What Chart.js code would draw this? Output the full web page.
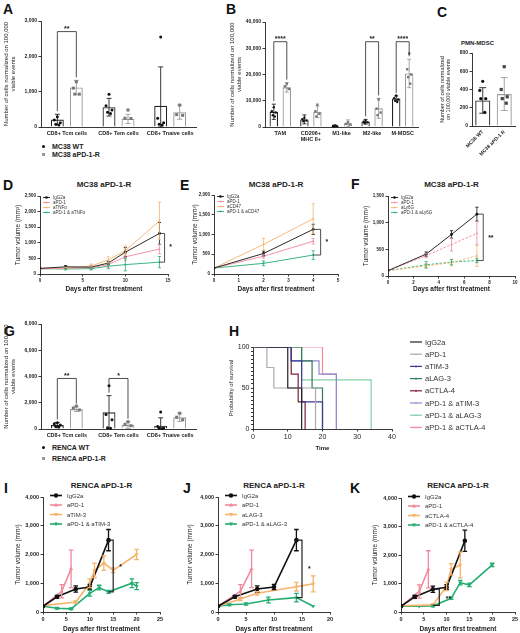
<!DOCTYPE html>
<html>
<head>
<meta charset="utf-8">
<script src="https://cdn.jsdelivr.net/npm/chart.js@4.4.1/dist/chart.umd.min.js"></script>
<style>
  body { margin: 0; background: #fff; }
  #page { position: relative; width: 520px; height: 633px; overflow: hidden; background: #fff; font-family: 'Liberation Sans', Arial, sans-serif; color: #222; }
  #page canvas { position: absolute; }
  .lt { position: absolute; font-weight: bold; font-size: 14px; line-height: 14px; color: #111; }
  .ttl { position: absolute; font-weight: bold; font-size: 8px; line-height: 10px; text-align: center; color: #222; white-space: nowrap; }
  .key { position: absolute; font-size: 7px; line-height: 8px; font-weight: bold; color: #222; white-space: nowrap; }
  .key i { display: inline-block; width: 3px; height: 3px; margin: 0 7px 1px 1px; vertical-align: middle; }
</style>
</head>
<body>
<div id="page">
  <div class="lt" style="left:3px;top:2px">A</div>
  <div class="lt" style="left:226px;top:2px">B</div>
  <div class="lt" style="left:437px;top:5px">C</div>
  <div class="lt" style="left:3px;top:178px">D</div>
  <div class="lt" style="left:180px;top:178px">E</div>
  <div class="lt" style="left:351px;top:177px">F</div>
  <div class="lt" style="left:4px;top:324px">G</div>
  <div class="lt" style="left:229px;top:324px">H</div>
  <div class="lt" style="left:4px;top:481px">I</div>
  <div class="lt" style="left:183px;top:481px">J</div>
  <div class="lt" style="left:350px;top:481px">K</div>

  <div class="ttl" style="left:455px;top:38px;width:45px;font-size:6px">PMN-MDSC</div>
  <div class="ttl" style="left:40px;top:180px;width:128px">MC38 aPD-1-R</div>
  <div class="ttl" style="left:214px;top:180px;width:124px">MC38 aPD-1-R</div>
  <div class="ttl" style="left:388px;top:180px;width:127px">MC38 aPD-1-R</div>
  <div class="ttl" style="left:43px;top:481px;width:117px">RENCA aPD-1-R</div>
  <div class="ttl" style="left:218px;top:481px;width:112px">RENCA aPD-1-R</div>
  <div class="ttl" style="left:401px;top:481px;width:114px">RENCA aPD-1-R</div>

  <div class="key" style="left:41px;top:143px"><i style="background:#111;border-radius:50%"></i>MC38 WT</div>
  <div class="key" style="left:41px;top:151px"><i style="background:#999"></i>MC38 aPD-1-R</div>
  <div class="key" style="left:41px;top:444px"><i style="background:#111;border-radius:50%"></i>RENCA WT</div>
  <div class="key" style="left:41px;top:455px"><i style="background:#999"></i>RENCA aPD-1-R</div>
</div>
<script>
// ---------- data ----------
// A: CD8+ subsets, MC38
const cellLabels = ['CD8+ Tcm cells', 'CD8+ Tem cells', 'CD8+ Tnaive cells'];
const aTicks = [0, 1000, 2000, 3000];
const aWt = [210, 560, 600];
const aWtErr = [150, 250, 1100];
const aWtDots = [[290, 200, 120, 80, 60], [930, 600, 480, 420, 380], [2550, 250, 120, 80, 60]];
const aRes = [1120, 230, 420];
const aResErr = [200, 130, 200];
const aResDots = [[1280, 1100, 930, 930], [480, 250, 240], [620, 350, 330]];
const aSig = [{ i: 0, level: 2700, label: '**' }];

// B: myeloid subsets
const myeloidLabels = ['TAM', ['CD206+', 'MHC II+'], 'M1-like', 'M2-like', 'M-MDSC'];
const bTicks = [0, 10000, 20000, 30000, 40000];
const bWt = [5800, 2900, 400, 2000, 10900];
const bWtErr = [2900, 1700, 300, 900, 900];
const bWtDots = [[7500, 6000, 5500, 4500, 4000], [3500, 3000, 2500, 2200], [600, 400, 300, 200], [2500, 2000, 1800, 1500], [12000, 11000, 10500, 10000, 9500]];
const bRes = [15100, 5800, 1400, 7100, 20400];
const bResErr = [1800, 2200, 1300, 3800, 5400];
const bResDots = [[16500, 15500, 14500], [8500, 6000, 5000, 4000], [1800, 1200, 900], [10500, 7000, 5500, 4500], [28000, 22000, 20000, 19000, 16500]];
const bSig = [{ i: 0, level: 32500, label: '****' }, { i: 3, level: 32500, label: '**' }, { i: 4, level: 32500, label: '****' }];

// C: PMN-MDSC
const pmnLabels = ['MC38 WT', 'MC38 aPD-1 R'];
const cTicks = [0, 200, 400, 600, 800];
const cVals = [280, 350];
const cErr = [140, 180];
const cDots = [[490, 390, 300, 300, 150], [650, 400, 320, 300, 250]];

// D: MC38 aPD-1-R, aTNFa
const dTicksX = [0, 5, 10, 15];
const dTicksY = [0, 500, 1000, 1500, 2000, 2500];
const dDays = [0, 3, 6, 8, 10, 14];
const dIgG = [180, 230, 220, 350, 700, 1300];
const dIgGErr = [0, 40, 30, 50, 150, 350];
const dPd1 = [170, 190, 200, 300, 550, 800];
const dPd1Err = [0, 30, 40, 80, 120, 150];
const dTnf = [170, 180, 260, 450, 750, 1700];
const dTnfErr = [0, 30, 60, 100, 150, 600];
const dCombo = [170, 160, 170, 250, 300, 380];
const dComboErr = [0, 30, 40, 80, 200, 180];

// E: aCD47
const eTicksX = [0, 1, 2, 3, 4, 5];
const eTicksY = [0, 500, 1000, 1500, 2000];
const eDays = [0, 2, 4];
const eIgG = [150, 520, 1130];
const eIgGErr = [0, 60, 130];
const ePd1 = [150, 450, 830];
const ePd1Err = [0, 50, 70];
const eCd47 = [150, 750, 1400];
const eCd47Err = [0, 150, 380];
const eCombo = [150, 270, 480];
const eComboErr = [0, 60, 110];

// F: aLy6G
const fTicksX = [0, 2, 4, 6, 8, 10];
const fTicksY = [0, 500, 1000, 1500];
const fDays = [0, 3, 5, 7];
const fIgG = [100, 410, 780, 1160];
const fIgGErr = [0, 40, 70, 130];
const fPd1 = [100, 380, 590, 800];
const fPd1Err = [0, 40, 120, 220];
const fLy6g = [100, 190, 250, 380];
const fLy6gErr = [0, 40, 60, 200];
const fCombo = [100, 210, 260, 290];
const fComboErr = [0, 60, 50, 40];

// G: CD8+ subsets, RENCA
const gTicks = [0, 2000, 4000, 6000, 8000];
const gWt = [300, 1270, 250];
const gWtErr = [200, 1270, 600];
const gWtDots = [[480, 400, 300, 200, 150], [3300, 1100, 700, 100, 50], [1300, 200, 80, 60, 40]];
const gRes = [1520, 300, 890];
const gResErr = [180, 250, 310];
const gResDots = [[1750, 1600, 1450], [550, 350, 250], [1200, 900, 700]];
const gSig = [{ i: 0, level: 3850, label: '**' }, { i: 1, level: 3850, label: '*' }];

// H: survival
const hTicksX = [0, 10, 20, 30, 40];
const hTicksY = [0, 5, 10, 15, 20, 25, 30, 35, 40, 45, 50, 55, 60, 65, 70, 75, 80, 85, 90, 95, 100];
const hLabelsY = [0, 50, 100];
const survIgGT = [0, 10, 14];       const survIgGP = [100, 50, 0];
const survPd1T = [0, 4, 6, 18];     const survPd1P = [100, 75, 50, 0];
const survTimT = [0, 11, 14, 20];   const survTimP = [100, 83, 33, 0];
const survLagT = [0, 14, 17, 20];   const survLagP = [100, 83, 50, 0];
const survCtlaT = [0, 11, 13, 15];  const survCtlaP = [100, 67, 33, 0];
const survPdTimT = [0, 11, 19, 24]; const survPdTimP = [100, 83, 67, 0];
const survPdLagT = [0, 14, 34];     const survPdLagP = [100, 60, 0];
const survPdCtlaT = [0, 20, 24];    const survPdCtlaP = [100, 67, 0];

// I/J/K: RENCA aPD-1-R
const rTicksY = [0, 1000, 2000, 3000, 4000];
const iTicksX = [0, 5, 10, 15, 20, 25];
const jTicksX = [0, 5, 10, 15, 20];
const rIgGDays = [0, 3, 7, 10, 14];
const rIgG = [200, 530, 800, 870, 2500];
const rIgGErr = [0, 50, 110, 90, 370];
const rPd1Days = [0, 4, 6];
const rPd1 = [200, 720, 1500];
const rPd1Err = [0, 230, 650];
const iTimDays = [0, 7, 10, 11, 13, 15, 20];
const iTim = [220, 350, 1000, 1450, 1700, 1450, 2000];
const iTimErr = [0, 40, 150, 250, 250, 80, 180];
const iComboDays = [0, 3, 6, 10, 12, 14, 19, 20];
const iCombo = [200, 130, 110, 650, 850, 700, 1000, 900];
const iComboErr = [0, 30, 30, 100, 80, 50, 150, 120];
const jLagDays = [0, 4, 7, 14, 17];
const jLag = [200, 450, 650, 880, 980];
const jLagErr = [0, 50, 60, 150, 280];
const jComboDays = [0, 2, 5, 9, 14, 17];
const jCombo = [200, 250, 280, 420, 500, 200];
const jComboErr = [0, 30, 40, 100, 150, 0];
const kCtlaDays = [0, 7, 10, 11, 13];
const kCtla = [220, 250, 900, 1500, 1650];
const kCtlaErr = [0, 40, 150, 200, 450];
const kComboDays = [0, 4, 7, 11, 13, 15, 20];
const kCombo = [200, 200, 210, 480, 1030, 950, 1650];
const kComboErr = [0, 0, 30, 40, 80, 60, 60];

// ---------- drawing ----------
const FONT = "'Liberation Sans', Arial, sans-serif";
Chart.defaults.font.family = FONT;
Chart.defaults.color = '#222';
Chart.defaults.animation = false;

const BLACK = '#111', PINK = '#f08a9c', ORANGE = '#f6b36c', GREEN = '#25ad72';

function marker(ctx, style, x, y, r, rot) {
  ctx.beginPath();
  if (style === 'triangle') {
    const s = rot ? -1 : 1;
    ctx.moveTo(x, y - s * r);
    ctx.lineTo(x + r * 0.95, y + s * r * 0.65);
    ctx.lineTo(x - r * 0.95, y + s * r * 0.65);
    ctx.closePath();
  } else if (style === 'rect') {
    ctx.rect(x - r, y - r, 2 * r, 2 * r);
  } else {
    ctx.arc(x, y, r, 0, Math.PI * 2);
  }
  ctx.fill();
}

// error bars, dots, significance brackets and legends
const extras = {
  id: 'extras',
  afterDatasetsDraw(chart, args, opts) {
    const ctx = chart.ctx, ys = chart.scales.y, xs = chart.scales.x, ca = chart.chartArea;
    ctx.save();
    chart.data.datasets.forEach((ds, d) => {
      const meta = chart.getDatasetMeta(d);
      meta.data.forEach((el, i) => {
        const raw = ds.data[i];
        const v = typeof raw === 'number' ? raw : raw.y;
        const pick = a => Array.isArray(a) ? a[i] : a;
        if (ds.err && ds.err[i]) {
          const e = ds.err[i];
          const top = ys.getPixelForValue(v + e);
          const bot = ys.getPixelForValue(Math.max(0, v - e));
          const w = ds.capWidth || 2;
          ctx.setLineDash([]);
          ctx.strokeStyle = pick(ds.errColor) || pick(ds.borderColor);
          ctx.lineWidth = ds.errWidth || 1;
          ctx.beginPath();
          ctx.moveTo(el.x, top); ctx.lineTo(el.x, bot);
          ctx.moveTo(el.x - w, top); ctx.lineTo(el.x + w, top);
          ctx.moveTo(el.x - w, bot); ctx.lineTo(el.x + w, bot);
          ctx.stroke();
        }
        if (ds.dots && ds.dots[i]) {
          ctx.fillStyle = pick(ds.dotColor);
          ds.dots[i].forEach((dv, k) => {
            const j = opts.jitter ? opts.jitter[k % opts.jitter.length] : 0;
            marker(ctx, pick(ds.dotStyle), el.x + j, ys.getPixelForValue(dv), opts.dot || 1.5, 0);
          });
        }
      });
    });

    ctx.setLineDash([]);
    ctx.strokeStyle = '#222';
    ctx.fillStyle = '#222';
    ctx.lineWidth = 0.8;
    ctx.font = 'bold 7px ' + FONT;
    ctx.textAlign = 'center';
    (opts.pairs || []).forEach(p => {
      const d0 = chart.data.datasets[0], d1 = chart.data.datasets[1];
      const a = chart.getDatasetMeta(0).data[p.i], b = chart.getDatasetMeta(1).data[p.i];
      const yl = ys.getPixelForValue(p.level);
      const ya = ys.getPixelForValue(d0.data[p.i] + d0.err[p.i]) - 3;
      const yb = ys.getPixelForValue(d1.data[p.i] + d1.err[p.i]) - 3;
      ctx.beginPath();
      ctx.moveTo(a.x, ya); ctx.lineTo(a.x, yl); ctx.lineTo(b.x, yl); ctx.lineTo(b.x, yb);
      ctx.stroke();
      ctx.textBaseline = 'bottom';
      ctx.fillText(p.label, (a.x + b.x) / 2, yl + 1);
    });
    (opts.vbars || []).forEach(b => {
      const x0 = xs.getPixelForValue(b.x0), x1 = xs.getPixelForValue(b.x);
      const yt = ys.getPixelForValue(b.top), yb = ys.getPixelForValue(b.bottom);
      ctx.lineWidth = b.lw || 0.8;
      ctx.beginPath();
      ctx.moveTo(x0, yt); ctx.lineTo(x1, yt); ctx.lineTo(x1, yb); ctx.lineTo(x0, yb);
      ctx.stroke();
      ctx.textBaseline = 'middle';
      ctx.fillText(b.label, xs.getPixelForValue(b.lx), ys.getPixelForValue(b.ly));
    });

    const L = opts.legend;
    if (L) {
      ctx.font = (L.weight || 'normal') + ' ' + L.size + 'px ' + FONT;
      ctx.textAlign = 'left';
      ctx.textBaseline = 'middle';
      chart.data.datasets.forEach((ds, d) => {
        const x = (L.right ? ca.right : ca.left) + L.x;
        const y = ca.top + L.y + d * L.dy;
        ctx.strokeStyle = ds.borderColor;
        ctx.lineWidth = L.lw;
        ctx.setLineDash(ds.borderDash || []);
        ctx.beginPath();
        ctx.moveTo(x, y); ctx.lineTo(x + L.len, y);
        ctx.stroke();
        ctx.setLineDash([]);
        if (ds.legendMarker !== false) {
          ctx.fillStyle = ds.borderColor;
          marker(ctx, ds.pointStyle, x + L.len / 2, y, L.r, ds.pointRotation);
        }
        ctx.fillStyle = L.color || '#333';
        ctx.fillText(ds.label, x + L.len + L.gap, y + 0.5);
      });
    }
    ctx.restore();
  }
};
Chart.register(extras);

function mount(box) {
  const c = document.createElement('canvas');
  c.width = box.w; c.height = box.h;
  c.style.left = box.x + 'px'; c.style.top = box.y + 'px';
  c.style.width = box.w + 'px'; c.style.height = box.h + 'px';
  document.getElementById('page').appendChild(c);
  return c;
}

// canvas box + wanted plot area (page pixels) -> padding and axis sizes
function frame(box, area) {
  return {
    padding: { left: 0, top: area.t - box.y, right: box.x + box.w - area.r, bottom: 0 },
    yw: area.l - box.x,
    xh: box.y + box.h - area.b
  };
}

function yScale(f, ticks, o) {
  return {
    min: ticks[0], max: ticks[ticks.length - 1],
    afterFit: s => { s.width = f.yw; },
    afterBuildTicks: s => { s.ticks = ticks.map(v => ({ value: v })); },
    border: { color: '#222', width: 0.9 },
    grid: { drawOnChartArea: false, tickLength: o.tl || 2.5, color: '#222', lineWidth: 0.9 },
    ticks: {
      font: { size: o.ts, weight: o.tw || 'bold' }, color: '#222', padding: 1.5, autoSkip: false,
      callback: o.labels ? (v => o.labels.includes(v) ? String(v) : '') : (v => v.toLocaleString('en-US'))
    },
    title: { display: true, text: o.title, font: { size: o.tts, weight: 'normal' }, color: '#222', padding: { top: o.tp, bottom: 0 } }
  };
}

function xLinear(f, ticks, o) {
  return {
    type: 'linear', min: ticks[0], max: ticks[ticks.length - 1],
    afterFit: s => { s.height = f.xh; },
    afterBuildTicks: s => { s.ticks = ticks.map(v => ({ value: v })); },
    border: { color: '#222', width: 0.9 },
    grid: { drawOnChartArea: false, tickLength: o.tl || 2.5, color: '#222', lineWidth: 0.9 },
    ticks: { font: { size: o.ts, weight: o.tw || 'bold' }, color: '#222', padding: 1.5, autoSkip: false, maxRotation: 0, callback: v => String(v) },
    title: { display: true, text: o.title, font: { size: o.tts, weight: 'bold' }, color: '#222', padding: { top: 0, bottom: o.tb || 0 } }
  };
}

function bars(box, area, o) {
  const f = frame(box, area);
  return new Chart(mount(box), {
    type: 'bar',
    data: {
      labels: o.labels,
      datasets: o.groups.map(g => ({
        label: g.label, data: g.vals, err: g.err, dots: g.dots,
        borderColor: g.color, backgroundColor: 'rgba(255,255,255,0)', borderWidth: 1.1,
        errColor: g.color, errWidth: 0.9, capWidth: o.cap,
        dotColor: g.dotColor, dotStyle: g.dotStyle,
        barPercentage: o.bp, categoryPercentage: o.cp
      }))
    },
    options: {
      responsive: false, animation: false,
      layout: { padding: f.padding },
      plugins: { legend: { display: false }, tooltip: { enabled: false },
        extras: { jitter: o.jitter, dot: o.dot, pairs: o.pairs || [] } },
      scales: {
        x: {
          afterFit: s => { s.height = f.xh; },
          border: { color: '#222', width: 0.9 },
          grid: { display: false, drawTicks: false, tickLength: 0 },
          ticks: { font: { size: o.xs || 5.5, weight: 'bold' }, color: '#222', padding: 3, autoSkip: false,
            maxRotation: o.rot || 0, minRotation: o.rot || 0 }
        },
        y: yScale(f, o.ticks, { ts: 5, title: o.title, tts: o.tts || 6, tp: o.tp })
      }
    }
  });
}

function growth(box, area, o) {
  const f = frame(box, area);
  return new Chart(mount(box), {
    type: 'line',
    data: {
      datasets: o.series.map(s => ({
        label: s.label,
        data: s.days.map((d, i) => ({ x: d, y: s.vals[i] })),
        err: s.err,
        borderColor: s.color, backgroundColor: s.color, borderWidth: o.lw,
        pointStyle: s.shape, pointRotation: s.rot || 0, pointRadius: o.pr, pointBorderWidth: 0,
        borderDash: s.dash || [], tension: 0, errWidth: o.ew, capWidth: o.cap
      }))
    },
    options: {
      responsive: false, animation: false,
      layout: { padding: f.padding },
      plugins: { legend: { display: false }, tooltip: { enabled: false },
        extras: { vbars: o.vbars, legend: o.legend } },
      scales: {
        x: xLinear(f, o.ticksX, { ts: o.ts, title: 'Days after first treatment', tts: o.xts }),
        y: yScale(f, o.ticksY, { ts: o.ts, title: 'Tumor volume (mm³)', tts: o.yts, tp: o.tp })
      }
    }
  });
}

const cellTitle = ['Number of cells normalized on 100,000', 'viable events'];

// A
bars({ x: 0, y: 12, w: 203, h: 128 }, { l: 41, t: 21, r: 196, b: 127 }, {
  labels: cellLabels, ticks: aTicks, cp: 0.735, bp: 0.68, cap: 2.5, jitter: [0, -3, 3, -1.5, 1.5],
  title: cellTitle, tp: 3, pairs: aSig,
  groups: [
    { label: 'MC38 WT', vals: aWt, err: aWtErr, dots: aWtDots, color: '#222', dotColor: '#111', dotStyle: 'circle' },
    { label: 'MC38 aPD-1-R', vals: aRes, err: aResErr, dots: aResDots, color: '#9b9b9b', dotColor: '#777', dotStyle: 'rect' }
  ]
});

// B
bars({ x: 222, y: 12, w: 203, h: 138 }, { l: 265, t: 22, r: 418, b: 127 }, {
  labels: myeloidLabels, ticks: bTicks, cp: 0.85, bp: 0.65, cap: 2, jitter: [0, -2, 2, -1, 1], dot: 1.2,
  title: cellTitle, tp: 7, pairs: bSig,
  groups: [
    { label: 'MC38 WT', vals: bWt, err: bWtErr, dots: bWtDots, color: '#222', dotColor: '#111', dotStyle: 'circle' },
    { label: 'MC38 aPD-1-R', vals: bRes, err: bResErr, dots: bResDots, color: '#9b9b9b', dotColor: '#777', dotStyle: 'rect' }
  ]
});

// C
bars({ x: 420, y: 45, w: 100, h: 118 }, { l: 472, t: 53, r: 515, b: 126 }, {
  labels: pmnLabels, ticks: cTicks, cp: 1, bp: 0.7, cap: 3.5, jitter: [0, -3, 3, -2, 2], dot: 1.6,
  title: ['Number of cells normalized', 'on 100,000 viable events'], tts: 5.5, tp: 19, rot: 45, xs: 5,
  groups: [
    { label: 'PMN-MDSC', vals: cVals, err: cErr, dots: cDots, color: ['#222', '#9b9b9b'],
      dotColor: ['#111', '#444'], dotStyle: ['circle', 'rect'] }
  ]
});

const smallLegend = { x: 3, y: 1.5, dy: 5, len: 7, gap: 3, size: 4.5, lw: 0.9, r: 1.3 };

// D
growth({ x: 5, y: 190, w: 170, h: 103 }, { l: 40, t: 196, r: 168, b: 274 }, {
  ticksX: dTicksX, ticksY: dTicksY, ts: 4.5, xts: 6.5, yts: 6.5, tp: 9, lw: 0.9, pr: 1.4, ew: 0.8, cap: 1.6,
  legend: smallLegend,
  vbars: [{ x0: 14, x: 14.6, top: 1300, bottom: 380, label: '*', lx: 15.3, ly: 850 }],
  series: [
    { label: 'IgG2a', days: dDays, vals: dIgG, err: dIgGErr, color: BLACK, shape: 'circle' },
    { label: 'aPD-1', days: dDays, vals: dPd1, err: dPd1Err, color: PINK, shape: 'triangle' },
    { label: 'aTNFα', days: dDays, vals: dTnf, err: dTnfErr, color: ORANGE, shape: 'triangle' },
    { label: 'aPD-1 & aTNFα', days: dDays, vals: dCombo, err: dComboErr, color: GREEN, shape: 'triangle', rot: 180 }
  ]
});

// E
growth({ x: 180, y: 189, w: 165, h: 104 }, { l: 214, t: 195, r: 338, b: 274 }, {
  ticksX: eTicksX, ticksY: eTicksY, ts: 4.5, xts: 6.5, yts: 6.5, tp: 11, lw: 0.9, pr: 1.4, ew: 0.8, cap: 1.6,
  legend: smallLegend,
  vbars: [{ x0: 4, x: 4.3, top: 1130, bottom: 480, label: '*', lx: 4.55, ly: 800 }],
  series: [
    { label: 'IgG2a', days: eDays, vals: eIgG, err: eIgGErr, color: BLACK, shape: 'circle' },
    { label: 'aPD-1', days: eDays, vals: ePd1, err: ePd1Err, color: PINK, shape: 'triangle' },
    { label: 'aCD47', days: eDays, vals: eCd47, err: eCd47Err, color: ORANGE, shape: 'triangle' },
    { label: 'aPD-1 & aCD47', days: eDays, vals: eCombo, err: eComboErr, color: GREEN, shape: 'triangle', rot: 180 }
  ]
});

// F
growth({ x: 354, y: 190, w: 166, h: 103 }, { l: 388, t: 196, r: 515, b: 276 }, {
  ticksX: fTicksX, ticksY: fTicksY, ts: 4.5, xts: 6.5, yts: 6.5, tp: 8, lw: 0.9, pr: 1.4, ew: 0.8, cap: 1.6,
  legend: smallLegend,
  vbars: [{ x0: 7, x: 7.5, top: 1160, bottom: 290, label: '**', lx: 8.1, ly: 720 }],
  series: [
    { label: 'IgG2a', days: fDays, vals: fIgG, err: fIgGErr, color: BLACK, shape: 'circle' },
    { label: 'aPD-1', days: fDays, vals: fPd1, err: fPd1Err, color: PINK, shape: 'triangle', dash: [2.5, 1.5] },
    { label: 'aLy6G', days: fDays, vals: fLy6g, err: fLy6gErr, color: ORANGE, shape: 'triangle', dash: [2.5, 1.5] },
    { label: 'aPD-1 & aLy6G', days: fDays, vals: fCombo, err: fComboErr, color: GREEN, shape: 'triangle', rot: 180, dash: [2.5, 1.5] }
  ]
});

// G
bars({ x: 0, y: 316, w: 203, h: 126 }, { l: 41, t: 324, r: 196, b: 429 }, {
  labels: cellLabels, ticks: gTicks, cp: 0.735, bp: 0.68, cap: 2.5, jitter: [0, -3, 3, -1.5, 1.5],
  title: cellTitle, tp: 3, pairs: gSig,
  groups: [
    { label: 'RENCA WT', vals: gWt, err: gWtErr, dots: gWtDots, color: '#222', dotColor: '#111', dotStyle: 'circle' },
    { label: 'RENCA aPD-1-R', vals: gRes, err: gResErr, dots: gResDots, color: '#9b9b9b', dotColor: '#777', dotStyle: 'rect' }
  ]
});

// H
(function () {
  const box = { x: 222, y: 340, w: 298, h: 115 }, area = { l: 253, t: 347, r: 392, b: 429 };
  const f = frame(box, area);
  const groups = [
    ['IgG2a', survIgGT, survIgGP, '#222'],
    ['aPD-1', survPd1T, survPd1P, '#ababab'],
    ['aTIM-3', survTimT, survTimP, '#3b3b8f'],
    ['aLAG-3', survLagT, survLagP, '#2f7a5c'],
    ['aCTLA-4', survCtlaT, survCtlaP, '#7b2036'],
    ['aPD-1 & aTIM-3', survPdTimT, survPdTimP, '#8c8cd2'],
    ['aPD-1 & aLAG-3', survPdLagT, survPdLagP, '#80cfa6'],
    ['aPD-1 & aCTLA-4', survPdCtlaT, survPdCtlaP, '#f28c9b']
  ];
  new Chart(mount(box), {
    type: 'line',
    data: {
      datasets: groups.map((g, k) => ({
        label: g[0], data: g[1].map((t, i) => ({ x: t, y: g[2][i] })),
        stepped: true, borderColor: g[3], backgroundColor: g[3], borderWidth: 1.2,
        pointRadius: 0, pointStyle: 'triangle', legendMarker: k > 0
      }))
    },
    options: {
      responsive: false, animation: false,
      layout: { padding: f.padding },
      plugins: { legend: { display: false }, tooltip: { enabled: false },
        extras: { legend: { right: true, x: 18, y: -5, dy: 12.2, len: 12, gap: 3, size: 7.5, lw: 1.2, r: 1.2 } } },
      scales: {
        x: xLinear(f, hTicksX, { ts: 7, tw: 'normal', title: 'Time', tts: 6, tb: 3 }),
        y: yScale(f, hTicksY, { ts: 7, tw: 'normal', title: 'Probability of survival', tts: 6, tp: 5.5, tl: 2, labels: hLabelsY })
      }
    }
  });
})();

const bigLegend = { x: 7, y: -1.5, dy: 9.5, len: 12, gap: 5, size: 6, lw: 1.6, r: 2.2 };
const rencaBase = [
  { label: 'IgG2a', days: rIgGDays, vals: rIgG, err: rIgGErr, color: BLACK, shape: 'circle' },
  { label: 'aPD-1', days: rPd1Days, vals: rPd1, err: rPd1Err, color: PINK, shape: 'triangle' }
];

// I
growth({ x: 8, y: 490, w: 160, h: 143 }, { l: 43, t: 497, r: 160, b: 612 }, {
  ticksX: iTicksX, ticksY: rTicksY, ts: 5.5, xts: 6.5, yts: 6.5, tp: 6, lw: 1.6, pr: 2.3, ew: 1.3, cap: 2.3,
  legend: bigLegend,
  vbars: [{ x0: 14, x: 15, top: 2500, bottom: 700, label: '*', lx: 16.6, ly: 1550, lw: 1.2 }],
  series: rencaBase.concat([
    { label: 'aTIM-3', days: iTimDays, vals: iTim, err: iTimErr, color: ORANGE, shape: 'triangle', rot: 180 },
    { label: 'aPD-1 & aTIM-3', days: iComboDays, vals: iCombo, err: iComboErr, color: GREEN, shape: 'triangle', rot: 180 }
  ])
});

// J
growth({ x: 183, y: 490, w: 155, h: 143 }, { l: 218, t: 497, r: 330, b: 612 }, {
  ticksX: jTicksX, ticksY: rTicksY, ts: 5.5, xts: 6.5, yts: 6.5, tp: 3, lw: 1.6, pr: 2.3, ew: 1.3, cap: 2.3,
  legend: bigLegend,
  vbars: [{ x0: 14, x: 15, top: 2500, bottom: 500, label: '*', lx: 16.3, ly: 1500, lw: 1.2 }],
  series: rencaBase.concat([
    { label: 'aLAG-3', days: jLagDays, vals: jLag, err: jLagErr, color: ORANGE, shape: 'triangle', rot: 180 },
    { label: 'aPD-1 & aLAG-3', days: jComboDays, vals: jCombo, err: jComboErr, color: GREEN, shape: 'triangle', rot: 180 }
  ])
});

// K
growth({ x: 366, y: 490, w: 154, h: 143 }, { l: 401, t: 498, r: 515, b: 612 }, {
  ticksX: iTicksX, ticksY: rTicksY, ts: 5.5, xts: 6.5, yts: 6.5, tp: 5, lw: 1.6, pr: 2.3, ew: 1.3, cap: 2.3,
  legend: bigLegend,
  vbars: [{ x0: 7, x: 8.4, top: 800, bottom: 230, label: '**', lx: 10.4, ly: 470, lw: 1.2 }],
  series: rencaBase.concat([
    { label: 'aCTLA-4', days: kCtlaDays, vals: kCtla, err: kCtlaErr, color: ORANGE, shape: 'triangle', rot: 180 },
    { label: 'aPD-1 & aCTLA-4', days: kComboDays, vals: kCombo, err: kComboErr, color: GREEN, shape: 'triangle', rot: 180 }
  ])
});
</script>
</body>
</html>
